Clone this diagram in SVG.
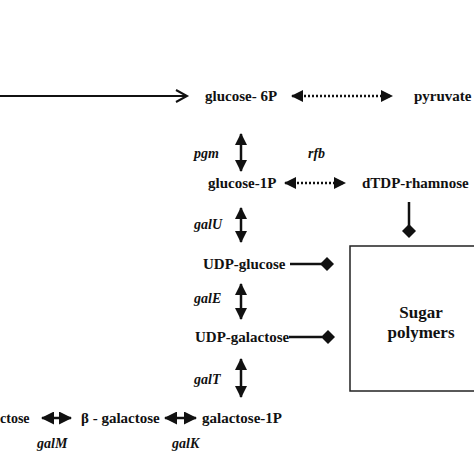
<svg xmlns="http://www.w3.org/2000/svg" width="474" height="474" viewBox="0 0 474 474">
<defs>
<style>
.t{font-family:"Liberation Serif","Times New Roman",serif;font-weight:bold;font-size:15px;fill:#111}
.e{font-family:"Liberation Serif","Times New Roman",serif;font-weight:bold;font-style:italic;font-size:14px;fill:#111}
.s{stroke:#111;stroke-width:2.5;fill:none}
.d{stroke:#111;stroke-width:2.5;fill:none;stroke-dasharray:2 2}
</style>
<marker id="tri" viewBox="0 0 12 12" refX="11" refY="6" markerWidth="12" markerHeight="12" markerUnits="userSpaceOnUse" orient="auto-start-reverse">
<path d="M0,0 L12,6 L0,12 z" fill="#111"/>
</marker>
<marker id="big" viewBox="0 0 13 13" refX="12" refY="6.5" markerWidth="13" markerHeight="13" markerUnits="userSpaceOnUse" orient="auto-start-reverse">
<path d="M0,0 L13,6.5 L0,13 z" fill="#111"/>
</marker>
</defs>
<rect width="474" height="474" fill="#fff"/>
<g id="connectors">
<line x1="0" y1="96" x2="186" y2="96" stroke="#111" stroke-width="2"/>
<polyline points="176,90 187,96 176,102" fill="none" stroke="#111" stroke-width="2"/>
<line class="d" x1="292" y1="96" x2="392" y2="96" marker-start="url(#tri)" marker-end="url(#tri)"/>
<line class="s" x1="241" y1="134" x2="241" y2="171" marker-start="url(#tri)" marker-end="url(#tri)"/>
<line class="d" x1="285" y1="183" x2="345" y2="183" marker-start="url(#tri)" marker-end="url(#tri)"/>
<line class="s" x1="241" y1="208" x2="241" y2="242" marker-start="url(#tri)" marker-end="url(#tri)"/>
<line class="s" x1="241" y1="284" x2="241" y2="319" marker-start="url(#tri)" marker-end="url(#tri)"/>
<line class="s" x1="241" y1="359" x2="241" y2="397" marker-start="url(#tri)" marker-end="url(#tri)"/>
<line class="s" x1="42" y1="418" x2="71" y2="418" marker-start="url(#big)" marker-end="url(#big)"/>
<line class="s" x1="165" y1="418" x2="196" y2="418" marker-start="url(#big)" marker-end="url(#big)"/>
<line x1="409" y1="202" x2="409" y2="226" stroke="#111" stroke-width="2.5"/>
<polygon points="409,224 416,231 409,238 402,231" fill="#111"/>
<line x1="290" y1="264" x2="322" y2="264" stroke="#111" stroke-width="2.5"/>
<polygon points="320,264 327,257 334,264 327,271" fill="#111"/>
<line x1="289" y1="337" x2="322" y2="337" stroke="#111" stroke-width="2.5"/>
<polygon points="321,337 328,330 335,337 328,344" fill="#111"/>
</g>
<g id="glucose6p"><text class="t" x="205" y="101">glucose- 6P</text></g>
<g id="pyruvate"><text class="t" x="414" y="101">pyruvate</text></g>
<g id="pgm"><text class="e" x="194" y="158">pgm</text></g>
<g id="rfb"><text class="e" x="308" y="158">rfb</text></g>
<g id="glucose1p"><text class="t" x="208" y="188">glucose-1P</text></g>
<g id="dtdp"><text class="t" x="362" y="188">dTDP-rhamnose</text></g>
<g id="galU"><text class="e" x="194" y="229">galU</text></g>
<g id="udpglucose"><text class="t" x="203" y="269">UDP-glucose</text></g>
<g id="galE"><text class="e" x="194" y="303">galE</text></g>
<g id="udpgalactose"><text class="t" x="195" y="342">UDP-galactose</text></g>
<g id="galT"><text class="e" x="194" y="384">galT</text></g>
<g id="sugar">
<rect x="350" y="246" width="140" height="145" fill="none" stroke="#222" stroke-width="1.5"/>
<text class="t" x="421" y="318" text-anchor="middle" style="font-size:17px">Sugar</text>
<text class="t" x="421" y="338" text-anchor="middle" style="font-size:17px">polymers</text>
</g>
<g id="ctose"><text class="t" x="0" y="423" style="font-size:14px">ctose</text></g>
<g id="bgal"><text class="t" x="81" y="423">β - galactose</text></g>
<g id="gal1p"><text class="t" x="202" y="423">galactose-1P</text></g>
<g id="galM"><text class="e" x="37" y="448">galM</text></g>
<g id="galK"><text class="e" x="172" y="448">galK</text></g>
</svg>
